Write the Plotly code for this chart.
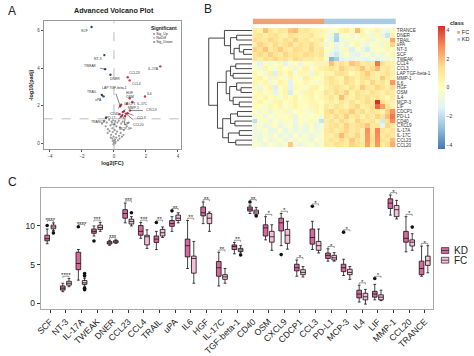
import math
import plotly.graph_objects as go

W, H = 474, 356
FONT = "Liberation Sans, Arial, sans-serif"

def fx(p):
    return p / W

def fy(p):
    return 1 - p / H

# ================= Panel A: volcano data =================
sig_names = ["SCF", "NT-3", "IL-17A", "TWEAK", "DNER", "CCL23", "CCL4", "TRAIL", "uPA", "IL6",
             "HGF", "IL-17C", "LAP TGF-beta-1", "CD40", "OSM", "CXCL9", "CCL3", "CDCP1", "PD-L1",
             "MCP-3", "IL4", "LIF", "MMP-1", "CCL20", "TRANCE"]
sig_log2fc = [-1.4, -0.6, 2.9, -0.55, -0.22, 0.86, 0.98, -0.75, -0.65, 1.94,
              0.98, 1.15, 0.39, 0.45, 0.8, 1.0, 0.85, 0.55, 0.35,
              0.7, 0.45, 0.52, 0.62, 0.75, -0.5]
sig_neglogp = [6.2, 4.7, 4.1, 3.95, 3.65, 3.52, 3.35, 2.57, 2.5, 2.49,
               2.4, 2.2, 1.97, 2.05, 2.1, 1.75, 1.6, 1.66, 1.55,
               1.45, 1.42, 1.5, 1.7, 1.58, 1.36]
nodiff_log2fc = [-0.75, -0.6, -0.52, -0.45, -0.38, -0.3, -0.22, -0.15, -0.1, -0.05, 0.02, 0.08,
                 0.15, 0.22, 0.3, 0.38, 0.45, 0.55, 0.62, 0.7, 0.8, 0.92, 1.05,
                 -0.4, -0.28, -0.18, -0.08, 0.05, 0.12, 0.2, 0.32, 0.42, 0.5, 0.6,
                 -0.2, -0.1, -0.02, 0.06, 0.14, 0.25, 0.35,
                 -0.08, 0.0, 0.05, 0.1, -0.03, 0.02, 0.08]
nodiff_neglogp = [1.05, 1.2, 0.9, 1.1, 0.75, 1.25, 0.95, 1.15, 0.8, 1.22, 1.0, 1.18,
                  0.9, 1.1, 1.2, 0.85, 1.05, 1.15, 0.7, 1.0, 0.9, 1.1, 0.8,
                  0.55, 0.65, 0.45, 0.6, 0.7, 0.5, 0.62, 0.4, 0.55, 0.35, 0.45,
                  0.3, 0.25, 0.35, 0.2, 0.3, 0.15, 0.25,
                  0.12, 0.05, 0.18, 0.08, -0.05, 0.15, 0.0]
padj_cutoff = 0.05

# label offsets (pixels) for repelled labels (layout, not data)
label_offsets = [(-7, 4), (-7, 4), (-7, 3), (-15, -3), (5, 4), (7, -4), (7, 4), (-10, -3), (-5, 4), (5, -3),
                 (0, -5), (10, 2), (-6, -18), (-7, 9), (3, -7), (22, 0), (14, 5), (7, -8), (-9, 4),
                 (-1, 13), (-8, 7), (4, 9), (10, -3), (13, 11), (-7, 4)]

# ================= Panel B: heatmap data =================
hm_rows = ["TRANCE", "DNER", "TRAIL", "uPA", "NT-3", "SCF", "TWEAK", "CCL4", "CCL3", "LAP TGF-beta-1",
           "MMP-1", "IL6", "HGF", "OSM", "IL4", "MCP-3", "LIF", "CDCP1", "PD-L1", "CD40", "CXCL9",
           "IL-17A", "IL-17C", "CCL23", "CCL20"]
sample_class = ["FC"] * 14 + ["KD"] * 14
hm_values = [
    [0.9, 0.6, 2.0, 1.1, 0.7, 1.2, 1.0, 1.9, 2.1, 0.9, 1.2, 0.7, 0.6, 0.5, 0.3, -0.4, 0.2, 0.6, 0.9, 0.3, 2.1, 0.4, -0.3, 0.2, 0.5, -0.6, -0.9, 0.3],
    [1.0, 1.3, 0.7, 1.2, 1.4, 0.9, 0.6, 1.3, 1.0, 0.8, 0.9, 1.2, 0.5, 0.4, -0.5, -0.9, -2.2, -0.6, 0.1, -0.8, -0.3, 0.4, -0.5, -0.8, 0.3, -0.9, -1.8, 0.5],
    [1.5, 1.1, 0.9, 1.6, 1.3, 0.8, 1.4, 1.0, 1.7, 0.9, 1.2, 0.6, 0.8, 1.0, -0.3, -1.0, -2.3, -0.8, -0.5, 0.3, -0.6, -0.3, 0.4, -0.9, -0.2, 0.3, -0.5, 2.4],
    [0.8, 1.6, 1.2, 0.9, 1.5, 1.0, 1.3, 1.6, 0.8, 1.4, 1.0, 1.5, 0.9, 0.6, -0.8, 0.1, -1.2, -0.5, -0.9, -0.3, 0.4, -0.6, -1.0, 0.1, -0.5, -0.8, 0.3, 1.6],
    [1.7, 1.3, 1.9, 1.0, 1.4, 1.8, 1.2, 0.9, 1.5, 1.3, 1.0, 1.6, 0.8, 1.2, 0.1, -0.6, -1.3, -0.5, 0.3, -1.5, -0.3, -0.8, -1.6, -0.5, 0.1, -0.3, 0.4, -0.2],
    [1.2, 1.5, 1.0, 1.7, 1.3, 0.9, 1.6, 1.2, 1.4, 1.0, 1.5, 1.3, 0.9, 1.3, -0.5, -1.2, -1.7, -0.8, -0.3, -0.9, -1.3, -0.6, -0.2, -1.0, -0.5, -0.8, -0.3, 0.4],
    [1.3, 0.9, 1.4, 1.2, 1.6, 1.0, 1.3, 0.8, 1.5, 1.2, 0.9, 1.0, 0.6, 0.8, -0.3, -3.0, -2.4, -1.3, -0.8, -1.0, -0.5, -0.9, -1.2, -0.6, -1.3, -0.5, -0.8, -0.3],
    [-0.6, -1.3, 0.2, -0.7, -0.3, 0.3, -1.4, -0.4, 0.1, -1.0, 0.2, -0.5, 0.4, 0.5, 0.5, 2.0, 0.9, 1.3, 0.8, 1.9, 1.6, 0.7, 1.2, 0.9, 3.2, 1.3, 0.8, 0.5],
    [0.2, -0.7, 0.5, 0.1, -0.4, 0.4, -0.1, 0.3, -0.9, 0.2, 0.6, -0.3, 0.3, 0.7, 0.9, 1.3, 0.7, 1.7, 1.2, 0.9, 1.4, 1.9, 1.0, 1.5, 2.1, 0.8, 1.2, 0.6],
    [0.4, -0.1, -0.6, 0.6, -1.5, 0.5, 0.2, 0.7, -0.4, 0.4, 0.3, -1.0, 0.5, 0.2, 0.6, 0.4, 1.2, 1.4, 0.9, 0.3, 0.7, 1.3, 1.8, 1.0, 0.6, 0.9, 1.3, 0.7],
    [0.3, 0.6, 0.1, -0.9, 0.4, 0.2, -0.6, 0.5, 0.1, -0.4, 0.7, 0.3, 0.1, 0.2, 0.9, 1.4, 0.7, 0.5, 1.6, 1.2, 0.6, 1.3, 1.5, 0.9, 0.7, 1.8, 1.0, 0.6],
    [0.5, 0.2, 0.4, -0.6, 0.1, 0.6, 0.3, -1.4, 0.2, -0.1, 0.4, 0.1, -0.4, 0.3, 0.7, 1.3, 0.9, 0.6, 1.5, 1.0, 0.5, 1.2, 0.7, 1.6, 0.9, 1.3, 0.6, 2.7],
    [0.3, -1.0, 0.2, 0.5, -1.5, 0.1, 0.4, -1.4, 0.3, 0.2, -0.4, 0.5, 0.6, 0.1, 0.6, 1.0, 1.4, 0.9, 0.5, 1.3, 0.7, 1.8, 1.2, 0.9, 1.6, 1.3, 0.7, 1.5],
    [0.1, 0.4, -0.4, 0.3, -1.3, 0.2, 0.5, -1.6, 0.1, -0.6, 0.4, 0.6, 0.2, 0.3, 1.2, 0.7, 1.5, 1.0, 1.7, 0.6, 1.3, 0.9, 0.7, 1.4, 1.0, 0.5, 1.2, 0.9],
    [0.4, 0.2, 0.5, 0.1, 0.3, -0.4, 0.4, 0.2, 0.6, -0.1, 0.3, 0.5, 0.1, 0.4, 0.7, 1.2, 0.6, 2.0, 0.9, 0.5, 1.3, 1.0, 1.4, 0.9, 1.2, 0.7, 0.3, 1.0],
    [0.2, 0.5, 0.1, -0.6, 0.4, 0.6, -0.1, 0.3, 0.5, -0.3, 0.2, 0.4, 0.3, 0.1, 0.6, 0.9, 0.5, 1.2, 0.7, 1.3, 0.6, 1.0, 1.5, 0.9, 4.3, 1.4, 0.7, 0.5],
    [0.3, 0.1, -0.4, 0.4, 0.2, 0.5, -0.3, 0.3, 0.6, 0.2, -0.1, 0.4, 0.5, 0.2, 1.0, 0.6, 1.3, 0.9, 0.5, 1.2, 1.6, 0.7, 1.0, 1.4, 3.4, 2.6, 1.2, 0.6],
    [-0.1, -0.6, 0.2, -0.9, 0.1, -0.4, 0.3, -0.7, -0.1, 0.2, -0.3, -0.6, 0.4, 0.1, 1.3, 1.6, 0.9, 1.4, 1.2, 1.8, 1.0, 1.5, 0.7, 1.3, 0.9, 0.5, 1.7, 2.8],
    [-0.4, 0.1, -0.8, -0.1, -0.6, 0.2, -0.3, 0.3, -0.9, 0.1, -0.4, -0.1, 0.2, -0.6, 1.2, 0.8, 1.5, 1.0, 1.7, 0.9, 1.4, 0.6, 1.3, 0.8, 1.6, 1.2, 2.0, 3.2],
    [-2.0, -0.4, 0.1, -0.8, -0.1, -0.6, 0.2, -0.3, -0.9, 0.1, -0.4, 0.3, -0.6, -1.9, 0.9, 1.3, 0.6, 1.5, 1.0, 0.7, 1.6, 1.2, 0.9, 1.4, 0.6, -1.7, 1.3, 2.9],
    [-0.8, -0.3, -1.0, -0.5, 0.1, -0.9, -0.6, -0.1, -1.1, -0.4, -0.8, 0.1, -1.0, -0.6, 0.8, 1.2, 1.4, 0.9, 1.7, 1.0, 1.3, 1.5, 1.9, 0.9, 1.2, -1.3, 1.6, 1.0],
    [-0.9, -0.6, -0.2, -1.0, -0.8, -0.1, -1.1, -0.4, -0.9, -0.6, -1.0, -0.2, -0.8, -0.4, 1.0, 1.4, 0.8, 1.2, 1.6, 0.9, 1.3, 0.7, 2.8, 1.0, 3.0, 1.2, 0.9, 1.3],
    [-0.6, -1.0, -0.4, -0.8, -0.2, -0.9, -0.6, -1.0, -0.1, -0.8, -0.4, -0.9, -0.6, -0.2, 0.9, 0.7, 1.3, 2.1, 1.4, 1.0, 1.6, 0.8, 2.7, 1.2, 2.9, 0.9, 1.4, 1.0],
    [-0.4, -0.8, -0.1, -0.9, -0.6, -0.2, -1.0, -0.4, -0.8, 0.1, -0.6, -0.9, -0.1, -0.4, 0.8, 1.3, 0.9, 1.5, 1.0, 1.8, 1.2, 0.8, 2.6, 1.4, 2.8, 1.3, 0.9, 2.0],
    [-0.2, -0.6, -0.9, -0.1, -0.4, -0.8, -0.2, 1.8, -0.6, -0.9, -0.4, -0.1, -0.8, -0.2, 1.0, 0.8, 1.4, 1.2, 0.9, 1.6, 1.3, 1.0, 2.5, 1.2, 2.7, 0.9, 1.3, 2.3],
]
# row dendrogram: (merge height, left, right)
row_tree = (1.0,
            (0.64, "TRANCE",
             (0.5, (0.36, "DNER", "TRAIL"),
              (0.42, (0.3, "uPA", (0.2, "NT-3", "SCF")), "TWEAK"))),
            (0.8,
             (0.6,
              (0.5, (0.38, "CCL4", "CCL3"), (0.44, "LAP TGF-beta-1", "MMP-1")),
              (0.52, (0.36, "IL6", (0.26, "HGF", "OSM")), (0.44, "IL4", (0.3, "MCP-3", "LIF")))),
             (0.68,
              (0.5, (0.34, "CDCP1", "PD-L1"), (0.4, "CD40", "CXCL9")),
              (0.55, (0.3, "IL-17A", "IL-17C"), (0.38, "CCL23", "CCL20")))))

# ================= Panel C: box-plot data =================
cats = ["SCF", "NT-3", "IL-17A", "TWEAK", "DNER", "CCL23", "CCL4", "TRAIL", "uPA", "IL6", "HGF",
        "IL-17C", "TGF-beta-1", "CD40", "OSM", "CXCL9", "CDCP1", "CCL3", "PD-L1", "MCP-3", "IL4",
        "LIF", "MMP-1", "CCL20", "TRANCE"]
kd_lower = [7.7, 1.5, 3.0, 8.7, 7.5, 10.4, 8.4, 6.95, 9.3, 4.5, 10.3, 2.25, 6.4, 11.6, 8.2, 7.45, 3.5, 6.95, 5.45, 3.6, 0.17, 0.45, 11.4, 6.65, 3.5]
kd_q1 = [8.08, 1.71, 4.35, 9.05, 7.66, 11.0, 8.8, 7.87, 9.95, 6.0, 11.3, 3.5, 6.95, 11.92, 8.7, 9.35, 4.2, 7.65, 5.8, 4.1, 0.7, 0.8, 12.25, 7.9, 3.7]
kd_median = [8.35, 1.96, 5.15, 9.3, 7.8, 11.6, 9.3, 8.3, 10.3, 7.45, 11.7, 4.6, 7.35, 12.17, 9.75, 10.4, 4.6, 8.5, 6.2, 4.6, 1.2, 1.2, 12.95, 8.4, 4.5]
kd_q3 = [8.8, 2.25, 6.6, 9.6, 8.0, 12.1, 10.05, 8.7, 10.7, 8.3, 12.45, 5.4, 7.55, 12.45, 10.15, 11.0, 5.05, 9.6, 6.5, 5.05, 1.7, 1.55, 13.5, 9.3, 5.45]
kd_upper = [9.6, 2.6, 6.95, 10.0, 8.15, 12.95, 10.45, 9.3, 11.2, 10.7, 13.1, 6.6, 7.85, 12.7, 11.2, 11.6, 5.6, 10.6, 7.05, 5.7, 2.35, 2.45, 14.0, 11.2, 7.4]
fc_lower = [9.4, 2.15, 2.2, 9.3, 7.75, 10.0, 7.1, 8.5, 10.4, 2.6, 9.3, 2.6, 6.5, 11.4, 6.85, 7.0, 3.4, 6.5, 5.45, 3.1, -0.1, 0.35, 10.9, 6.85, 3.95]
fc_q1 = [9.63, 2.35, 2.45, 9.55, 7.83, 10.25, 7.55, 8.7, 10.7, 3.9, 10.3, 3.1, 6.7, 11.54, 7.9, 7.75, 3.7, 6.85, 5.6, 3.7, 0.45, 0.45, 11.2, 7.4, 4.9]
fc_median = [9.87, 2.6, 2.65, 9.8, 7.95, 10.58, 8.6, 9.12, 11.0, 5.8, 11.0, 3.42, 6.9, 11.8, 8.6, 8.8, 4.0, 7.45, 5.88, 4.0, 0.85, 0.8, 12.1, 7.9, 5.5]
fc_q3 = [10.1, 2.85, 2.95, 10.1, 8.1, 10.87, 8.8, 9.55, 11.4, 6.1, 11.6, 3.7, 7.1, 12.04, 9.3, 9.55, 4.35, 8.0, 6.2, 4.4, 1.3, 1.1, 12.65, 8.2, 6.1]
fc_upper = [10.4, 3.2, 3.25, 10.45, 8.2, 11.2, 9.5, 9.87, 11.7, 8.0, 11.8, 4.5, 7.45, 12.4, 10.15, 10.6, 4.75, 9.6, 6.55, 4.75, 1.8, 1.7, 13.3, 9.0, 7.45]
kd_outlier_cat = ["SCF", "IL-17A", "TWEAK", "TRAIL", "uPA", "CD40", "CXCL9", "CCL3", "MCP-3", "LIF"]
kd_outlier_val = [10.05, 9.9, 8.05, 10.45, 11.95, 13.1, 6.3, 12.55, 9.2, 3.2]
fc_outlier_cat = ["SCF", "IL-17A", "IL-17A", "IL-17A", "IL-17A", "CCL23", "TGF-beta-1", "CD40", "CCL20"]
fc_outlier_val = [9.1, 3.85, 3.55, 1.95, 1.75, 11.7, 6.25, 11.3, 9.85]
signif = ["****", "****", "****", "***", "***", "***", "***", "**", "**", "**", "**", "**", "**", "**",
          "*", "*", "*", "*", "*", "*", "*", "*", "*", "*", "*"]

KD_COLOR = "#D9679B"
FC_COLOR = "#F4BFD7"
UP_COLOR = "#C8384A"
DOWN_COLOR = "#2B4C7E"
ND_COLOR = "#9A9A9A"

fig = go.Figure()

# ---------------- Panel A ----------------
fig.add_trace(go.Scatter(x=nodiff_log2fc, y=nodiff_neglogp, mode="markers",
                         marker=dict(size=2.2, color=ND_COLOR), xaxis="x", yaxis="y", hoverinfo="skip"))
sig_colors = [UP_COLOR if v > 0 else DOWN_COLOR for v in sig_log2fc]
fig.add_trace(go.Scatter(x=sig_log2fc, y=sig_neglogp, mode="markers",
                         marker=dict(size=2.4, color=sig_colors), xaxis="x", yaxis="y",
                         text=sig_names, hoverinfo="text"))
annotations = []
for name, xv, yv, (dx, dy) in zip(sig_names, sig_log2fc, sig_neglogp, label_offsets):
    annotations.append(dict(x=xv, y=yv, xref="x", yref="y", text=name, showarrow=True,
                            arrowhead=0, arrowwidth=0.6, arrowcolor="#333", ax=dx, ay=dy,
                            standoff=0, startstandoff=2,
                            font=dict(size=3.4, color="#333", family=FONT)))
thr = -math.log10(padj_cutoff)
shapes = [
    dict(type="line", xref="x", yref="y domain", x0=0, x1=0, y0=0, y1=1,
         line=dict(color="#BBBBBB", width=1, dash="dash"), layer="below"),
    dict(type="line", xref="x domain", yref="y", x0=0, x1=1, y0=thr, y1=thr,
         line=dict(color="#BBBBBB", width=1, dash="dash"), layer="below"),
]
annotations += [
    dict(x=fx(110), y=fy(11), xref="paper", yref="paper", xanchor="center", yanchor="middle",
         text="<b>Advanced Volcano Plot</b>",
         showarrow=False, font=dict(size=7.2, color="#222", family=FONT)),
    dict(x=fx(146), y=fy(29), xref="paper", yref="paper", xanchor="left", yanchor="middle",
         text="<b>Significant</b>",
         showarrow=False, font=dict(size=5, color="#222", family=FONT)),
    dict(x=fx(148), y=fy(35.5), xref="paper", yref="paper", xanchor="left", yanchor="middle",
         text=f"<span style='color:{UP_COLOR}'>●</span> Sig_Up", showarrow=False,
         font=dict(size=3.6, color="#333", family=FONT)),
    dict(x=fx(148), y=fy(39.2), xref="paper", yref="paper", xanchor="left", yanchor="middle",
         text=f"<span style='color:{ND_COLOR}'>●</span> NoDiff", showarrow=False,
         font=dict(size=3.6, color="#333", family=FONT)),
    dict(x=fx(148), y=fy(42.9), xref="paper", yref="paper", xanchor="left", yanchor="middle",
         text=f"<span style='color:{DOWN_COLOR}'>●</span> Sig_Down", showarrow=False,
         font=dict(size=3.6, color="#333", family=FONT)),
    dict(x=fx(1), y=fy(2), xref="paper", yref="paper", xanchor="left", yanchor="top", text="A",
         showarrow=False, font=dict(size=12, color="#222", family=FONT)),
    dict(x=fx(199), y=fy(0), xref="paper", yref="paper", xanchor="left", yanchor="top", text="B",
         showarrow=False, font=dict(size=12, color="#222", family=FONT)),
    dict(x=fx(1), y=fy(179), xref="paper", yref="paper", xanchor="left", yanchor="top", text="C",
         showarrow=False, font=dict(size=12, color="#222", family=FONT)),
]

# ---------------- Panel B ----------------
row_index = {n: i for i, n in enumerate(hm_rows)}
seg_x, seg_y = [], []

def walk(node):
    if isinstance(node, str):
        return row_index[node], 0.0
    h, a, b = node
    pa, ha = walk(a)
    pb, hb = walk(b)
    seg_x.extend([ha, h, h, hb, None])
    seg_y.extend([pa, pa, pb, pb, None])
    return (pa + pb) / 2, h

walk(row_tree)
fig.add_trace(go.Scatter(x=seg_x, y=seg_y, mode="lines", line=dict(color="#333", width=0.9),
                         xaxis="x2", yaxis="y2", hoverinfo="skip"))

heat_scale = [[0, "#4575B4"], [1 / 6, "#91BFDB"], [2 / 6, "#E0F3F8"], [3 / 6, "#FFFFBF"],
              [4 / 6, "#FEE090"], [5 / 6, "#FC8D59"], [1, "#D73027"]]
n_samples = len(sample_class)
fig.add_trace(go.Heatmap(z=hm_values, x=list(range(n_samples)), y=list(range(len(hm_rows))),
                         colorscale=heat_scale, zmin=-4.3, zmax=4.3, xaxis="x3", yaxis="y3",
                         colorbar=dict(x=fx(438), xanchor="left", xpad=0, ypad=0,
                                       y=fy(90.5), yanchor="middle",
                                       len=123, lenmode="pixels", thickness=7, outlinewidth=0,
                                       tickvals=[-4, -2, 0, 2, 4], ticks="",
                                       tickfont=dict(size=5, color="#333", family=FONT))))
class_codes = [[0 if c == "FC" else 1 for c in sample_class]]
CLASS_FC = "#F1A274"
CLASS_KD = "#A9CCE3"
fig.add_trace(go.Heatmap(z=class_codes, x=list(range(n_samples)), y=[0],
                         colorscale=[[0, CLASS_FC], [0.5, CLASS_FC], [0.5, CLASS_KD], [1, CLASS_KD]],
                         zmin=0, zmax=1, showscale=False, xaxis="x4", yaxis="y4", hoverinfo="skip"))
annotations += [
    dict(x=fx(448), y=fy(24), xref="paper", yref="paper", xanchor="left", yanchor="middle",
         text="<b>class</b>", showarrow=False, font=dict(size=5.5, color="#222", family=FONT)),
    dict(x=fx(455), y=fy(33.5), xref="paper", yref="paper", xanchor="left", yanchor="middle",
         text=f"<span style='color:{CLASS_FC}'>■</span> FC", showarrow=False,
         font=dict(size=5.5, color="#222", family=FONT)),
    dict(x=fx(455), y=fy(40.5), xref="paper", yref="paper", xanchor="left", yanchor="middle",
         text=f"<span style='color:{CLASS_KD}'>■</span> KD", showarrow=False,
         font=dict(size=5.5, color="#222", family=FONT)),
]

# ---------------- Panel C ----------------
n = len(cats)
cat_pos = {c: i for i, c in enumerate(cats)}
off = 0.2
kd_x = [i - off for i in range(n)]
fc_x = [i + off for i in range(n)]
box_common = dict(width=0.3, whiskerwidth=0.6, boxpoints=False, line=dict(color="#111", width=0.8),
                  xaxis="x5", yaxis="y5", hoverinfo="skip")
fig.add_trace(go.Box(x=kd_x, lowerfence=kd_lower, q1=kd_q1, median=kd_median, q3=kd_q3,
                     upperfence=kd_upper, fillcolor=KD_COLOR, name="KD", **box_common))
fig.add_trace(go.Box(x=fc_x, lowerfence=fc_lower, q1=fc_q1, median=fc_median, q3=fc_q3,
                     upperfence=fc_upper, fillcolor=FC_COLOR, name="FC", **box_common))
fig.add_trace(go.Scatter(x=[cat_pos[c] - off for c in kd_outlier_cat], y=kd_outlier_val, mode="markers",
                         marker=dict(size=3.6, color="#111"), xaxis="x5", yaxis="y5", hoverinfo="skip"))
fig.add_trace(go.Scatter(x=[cat_pos[c] + off for c in fc_outlier_cat], y=fc_outlier_val, mode="markers",
                         marker=dict(size=3.6, color="#111"), xaxis="x5", yaxis="y5", hoverinfo="skip"))

# significance brackets from data maxima
top = []
for i, c in enumerate(cats):
    vals = [kd_upper[i], fc_upper[i]]
    vals += [v for cc, v in zip(kd_outlier_cat, kd_outlier_val) if cc == c]
    vals += [v for cc, v in zip(fc_outlier_cat, fc_outlier_val) if cc == c]
    top.append(max(vals) + 0.3)
br_x, br_y = [], []
for i in range(n):
    br_x += [i - off, i - off, i + off, i + off, None]
    br_y += [top[i] - 0.2, top[i], top[i], top[i] - 0.2, None]
fig.add_trace(go.Scatter(x=br_x, y=br_y, mode="lines", line=dict(color="#555", width=0.6),
                         xaxis="x5", yaxis="y5", hoverinfo="skip"))
fig.add_trace(go.Scatter(x=list(range(n)), y=[t - 0.35 for t in top], mode="text", text=signif,
                         textposition="top center", textfont=dict(size=6.2, color="#222", family=FONT),
                         xaxis="x5", yaxis="y5", hoverinfo="skip"))

# box legend (drawn swatches)
for yy, col, lab in [(258.5, KD_COLOR, "KD"), (268.5, FC_COLOR, "FC")]:
    shapes.append(dict(type="rect", xref="paper", yref="paper", x0=fx(441), x1=fx(448.5),
                       y0=fy(yy + 3), y1=fy(yy - 3), fillcolor=col, line=dict(color="#222", width=0.7)))
    shapes.append(dict(type="line", xref="paper", yref="paper", x0=fx(441), x1=fx(448.5),
                       y0=fy(yy), y1=fy(yy), line=dict(color="#222", width=0.7)))
    annotations.append(dict(x=fx(451.5), y=fy(yy), xref="paper", yref="paper", xanchor="left",
                            yanchor="middle", text=lab, showarrow=False,
                            font=dict(size=10, color="#222", family=FONT)))

axis_line = dict(showline=True, mirror=True, linewidth=1, zeroline=False, showgrid=False)

fig.update_layout(
    width=W, height=H, margin=dict(l=0, r=0, t=0, b=0), autosize=False,
    paper_bgcolor="white", plot_bgcolor="white", showlegend=False,
    font=dict(family=FONT, color="#222"),
    boxmode="overlay",
    xaxis=dict(domain=[fx(39), fx(178)], anchor="y", range=[-4.4, 4.2], tickvals=[-4, -2, 0, 2, 4],
               ticks="outside", ticklen=2, tickcolor="#555", tickfont=dict(size=4.5, color="#444"),
               linecolor="#999", title=dict(text="<b>log2(FC)</b>", font=dict(size=5.5), standoff=3),
               **axis_line),
    yaxis=dict(domain=[fy(154), fy(22)], anchor="x", range=[-0.32, 6.5], tickvals=[0, 2, 4, 6],
               ticks="outside", ticklen=2, tickcolor="#555", tickfont=dict(size=4.5, color="#444"),
               linecolor="#999", title=dict(text="<b>-log10(padj)</b>", font=dict(size=5.5), standoff=3),
               **axis_line),
    xaxis2=dict(domain=[fx(183), fx(250)], anchor="y2", range=[1.52, 0], visible=False),
    yaxis2=dict(domain=[fy(152), fy(29)], anchor="x2", range=[len(hm_rows) - 0.5, -0.5], visible=False),
    xaxis3=dict(domain=[fx(250), fx(395)], anchor="y3", range=[-0.5, n_samples - 0.5], visible=False),
    yaxis3=dict(domain=[fy(152), fy(29)], anchor="x3", range=[len(hm_rows) - 0.5, -0.5], side="right",
                tickvals=list(range(len(hm_rows))), ticktext=hm_rows, ticks="", showline=False,
                showgrid=False, zeroline=False,
                tickfont=dict(size=4.6, color="#333")),
    xaxis4=dict(domain=[fx(250.5), fx(395)], anchor="y4", range=[-0.5, n_samples - 0.5], visible=False),
    yaxis4=dict(domain=[fy(25), fy(19)], anchor="x4", range=[-0.5, 0.5], visible=False),
    xaxis5=dict(domain=[fx(36), fx(433)], anchor="y5", range=[-0.62, n - 0.44],
                tickvals=list(range(n)), ticktext=cats, tickangle=-45, ticks="outside", ticklen=3,
                tickcolor="#333", tickfont=dict(size=8.8, color="#222"), linecolor="#AAAAAA", **axis_line),
    yaxis5=dict(domain=[fy(319), fy(194)], anchor="x5", range=[-0.75, 14.9], tickvals=[0, 5, 10],
                ticks="outside", ticklen=3, tickcolor="#333", tickfont=dict(size=8.5, color="#222"),
                linecolor="#AAAAAA", **axis_line),
    shapes=shapes,
    annotations=annotations,
)

fig.write_html("out.html",
               config={"displayModeBar": False},
               post_script="document.body.style.margin='0';document.body.style.padding='0';"
                           "document.body.style.overflow='hidden';")
